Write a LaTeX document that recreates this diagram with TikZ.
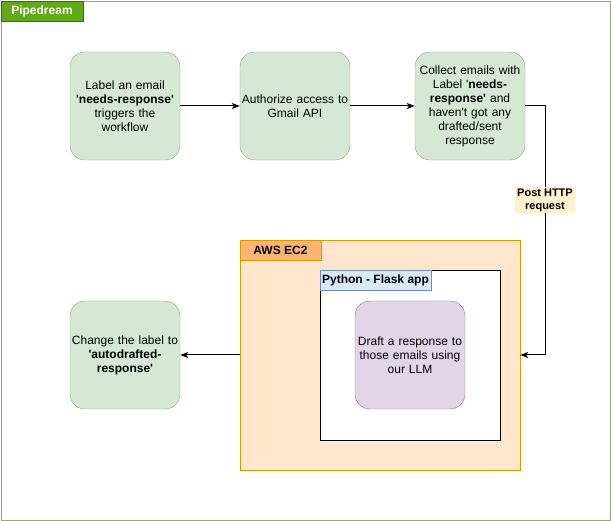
\documentclass[tikz,border=0pt]{standalone}
\usepackage{fontspec}
\setmainfont{Liberation Sans}
\usetikzlibrary{arrows.meta,positioning}
\definecolor{taskfill}{HTML}{D5E8D4}
\definecolor{taskline}{HTML}{82B366}
\definecolor{pdtab}{HTML}{60A917}
\definecolor{pdtabline}{HTML}{2D7600}
\definecolor{ecfill}{HTML}{FFE6CC}
\definecolor{ecline}{HTML}{D79B00}
\definecolor{ectab}{HTML}{FFB570}
\definecolor{pytab}{HTML}{DAE8FC}
\definecolor{pyline}{HTML}{6C8EBF}
\definecolor{llmfill}{HTML}{E1D5E7}
\definecolor{llmline}{HTML}{9673A6}
\definecolor{notefill}{HTML}{FFF2CC}
\newcommand{\q}{\textquotesingle}
\tikzset{
  task/.style      = {draw=taskline, fill=taskfill, rounded corners=15pt, minimum width=110pt, minimum height=108pt, text width=108pt, align=center, inner sep=1pt, font=\fontsize{12}{14}\selectfont},
  llmtask/.style   = {task, draw=llmline, fill=llmfill},
  container/.style = {draw, inner sep=0pt},
  tab/.style       = {draw, anchor=north west, inner sep=0pt, minimum height=20pt, font=\bfseries\fontsize{12}{14}\selectfont},
  flow/.style      = {-{Stealth[length=8pt,width=6pt,inset=2pt]}, line width=1pt},
  note/.style      = {fill=notefill, align=center, inner sep=2pt, font=\bfseries\fontsize{11}{13}\selectfont}
}

\begin{document}
\begin{tikzpicture}[x=1pt, y=-1pt]
    \useasboundingbox (0,0) rectangle (611,521);
    % Pipedream frame
    \node[container, draw=taskline, fill=white, minimum width=609pt, minimum height=519pt] (pd) at (305.5,260.5) {};
    \node[tab, draw=pdtabline, fill=pdtab, text=white, minimum width=82pt] (pdtab) at (pd.north west) {Pipedream};
    % Steps in Pipedream
    \node[task] (label) at (125,106) {Label an email\\\textbf{\q needs-response\q}\\triggers the\\workflow};
    \node[task] (auth) at (295,106) {Authorize access to\\Gmail API};
    \node[task] (collect) at (470,106) {Collect emails with\\Label \q\textbf{needs-}\\\textbf{response\q} and\\haven\q t got any\\drafted/sent\\response};
    \node[task] (relabel) at (125,355) {Change the label to\\\textbf{\q autodrafted-}\\\textbf{response\q}};
    % AWS EC2
    \node[container, draw=ecline, fill=ecfill, minimum width=280pt, minimum height=230pt] (ec2) at (380,355) {};
    \node[tab, draw=ecline, fill=ectab, minimum width=81pt] (ec2tab) at (ec2.north west) {AWS EC2};
    % Flask app
    \node[container, fill=white, minimum width=180pt, minimum height=170pt] (flask) at (410,355) {};
    \node[tab, draw=pyline, fill=pytab, minimum width=111pt] (flasktab) at (flask.north west) {Python - Flask app};
    \node[llmtask] (llm) at (410,355) {Draft a response to\\those emails using\\our LLM};
    % Connectors
    \coordinate (bend) at (545,106);
    \draw[flow] (label) -- (auth);
    \draw[flow] (auth) -- (collect);
    \draw[flow] (collect.east) -- (bend) |- (ec2.east);
    \draw[flow] (ec2.west) -- (relabel.east);
    \node[note] (http) at (545,200) {Post HTTP\\request};
  \end{tikzpicture}
\end{document}
